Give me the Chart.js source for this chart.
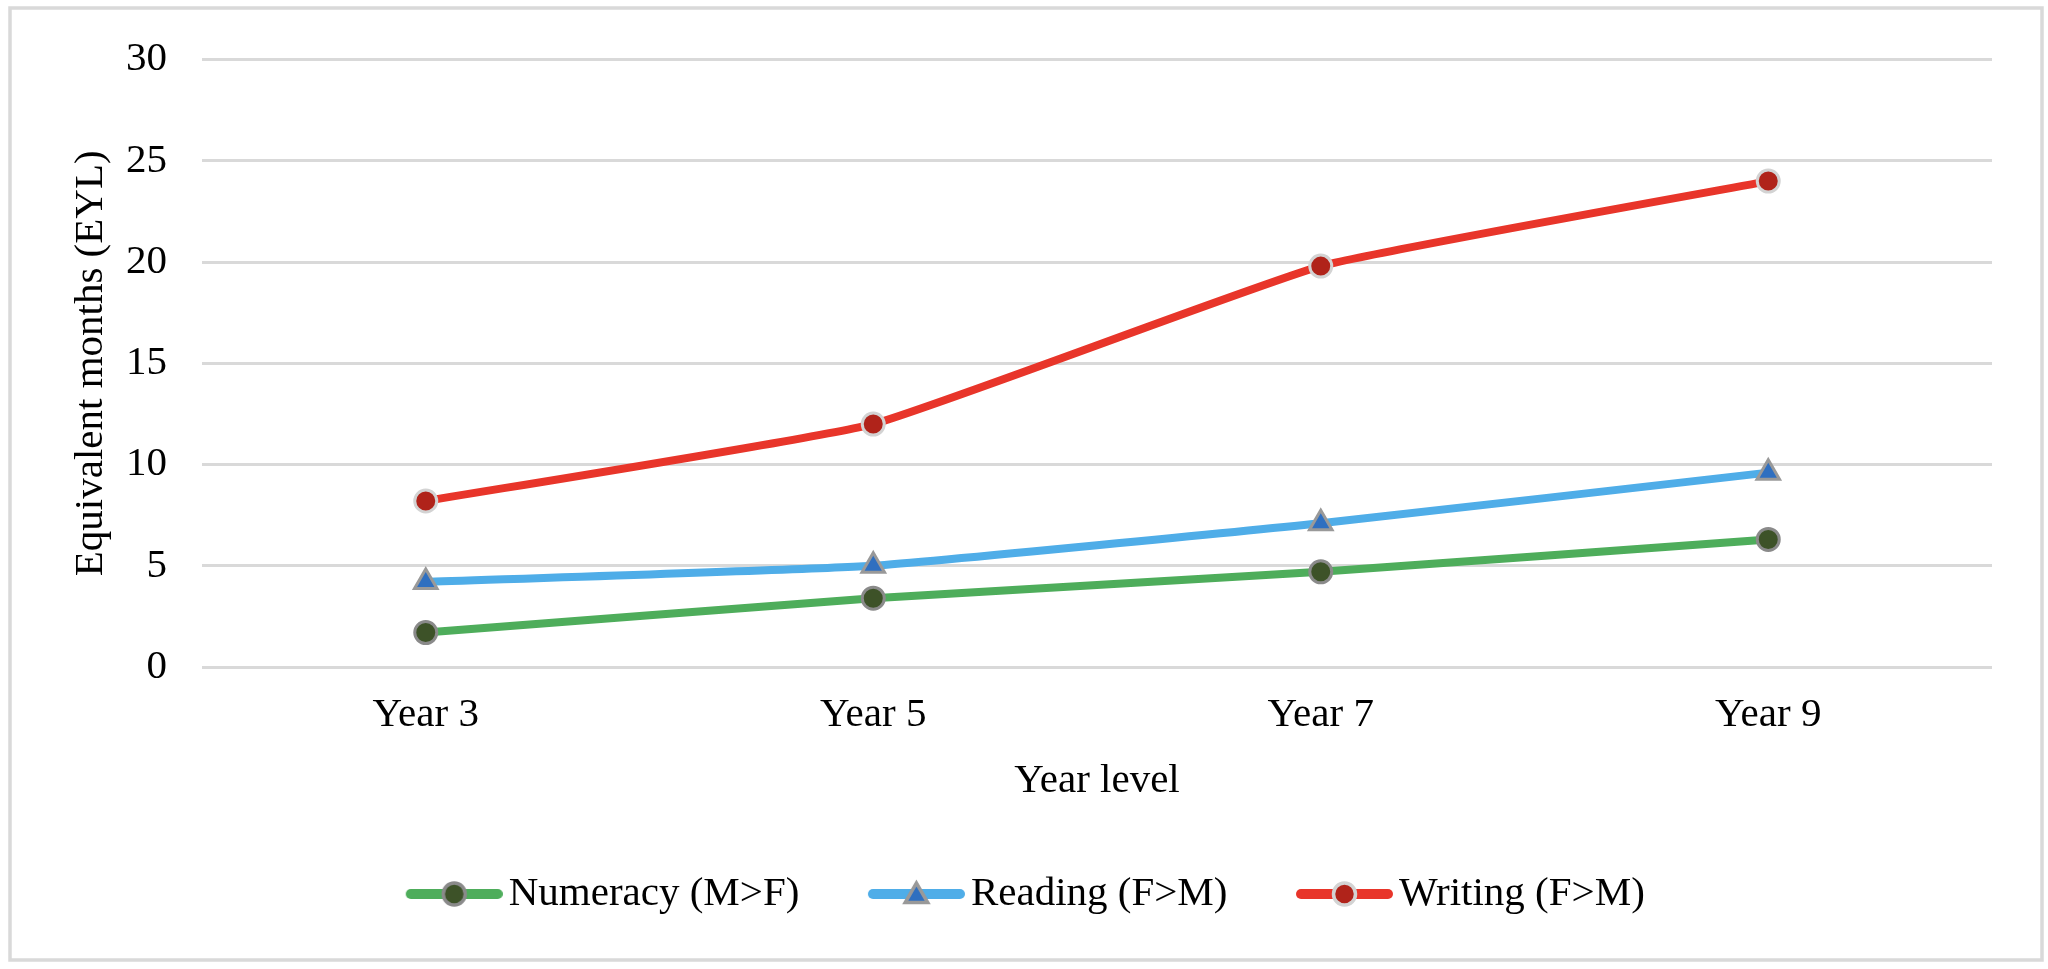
<!DOCTYPE html>
<html>
<head>
<meta charset="utf-8">
<title>Equivalent months by year level</title>
<script src="https://cdn.jsdelivr.net/npm/chart.js@4/dist/chart.umd.min.js"></script>
<style>
  html, body { margin: 0; padding: 0; background: #fff; }
  #wrap { position: relative; width: 2048px; height: 969px; }
</style>
</head>
<body>
<div id="wrap"><canvas id="eylChart"></canvas></div>
<script>
// ── Data ──
const YEAR_LABELS   = ['Year 3', 'Year 5', 'Year 7', 'Year 9'];
const NUMERACY_DATA = [1.7, 3.4, 4.7, 6.3];
const READING_DATA  = [4.2, 5.0, 7.1, 9.6];
const WRITING_DATA  = [8.2, 12.0, 19.8, 24.0];
const SERIES_NAMES  = ['Numeracy (M>F)', 'Reading (F>M)', 'Writing (F>M)'];
const Y_TICKS       = [0, 5, 10, 15, 20, 25, 30];

// ── Colour tokens ──
const C_GRID  = '#D9D9D9';
const C_TEXT  = '#000000';
const FONT    = "'Liberation Serif', 'Times New Roman', serif";
const F_SIZE  = 41;

const SERIES_STYLE = [
  { line: '#4EAD5B', fill: '#3D5228', border: '#8A8A8A', shape: 'circle',   r: 11 },
  { line: '#4FADE8', fill: '#2F6FC0', border: '#999999', shape: 'triangle', r: 13 },
  { line: '#E8352A', fill: '#B0231A', border: '#D3D3D3', shape: 'circle',   r: 11 },
];

// ── Legend swatch: short line with marker, drawn to an offscreen canvas ──
// transparent space on the left keeps the swatch close to its label
function legendSwatch(st) {
  const c = document.createElement('canvas');
  c.width = 150; c.height = 36;
  const g = c.getContext('2d');
  g.lineCap = 'round';
  g.lineWidth = 10;
  g.strokeStyle = st.line;
  g.beginPath();
  g.moveTo(58, 18);
  g.lineTo(145, 18);
  g.stroke();
  g.lineWidth = 3.5;
  g.fillStyle = st.fill;
  g.strokeStyle = st.border;
  const cy = st.shape === 'triangle' ? 20 : 18;
  Chart.helpers.drawPoint(g, { pointStyle: st.shape, radius: st.r, rotation: 0, borderWidth: 3.5 }, 101.5, cy);
  return c;
}
const SWATCHES = SERIES_STYLE.map(legendSwatch);

// ── Outer frame ──
const framePlugin = {
  id: 'frame',
  beforeDraw(chart) {
    const ctx = chart.ctx;
    ctx.save();
    ctx.strokeStyle = C_GRID;
    ctx.lineWidth = 3.5;
    ctx.strokeRect(10, 8, 2032, 952);
    ctx.restore();
  }
};

const SERIES_DATA = [NUMERACY_DATA, READING_DATA, WRITING_DATA];

new Chart(document.getElementById('eylChart'), {
  type: 'line',
  data: {
    labels: YEAR_LABELS,
    datasets: SERIES_DATA.map((d, i) => ({
      label: SERIES_NAMES[i],
      data: d,
      borderColor: SERIES_STYLE[i].line,
      backgroundColor: SERIES_STYLE[i].line,
      borderWidth: 8,
      tension: 0.12,
      fill: false,
      pointStyle: SERIES_STYLE[i].shape,
      pointRadius: SERIES_STYLE[i].r,
      pointBackgroundColor: SERIES_STYLE[i].fill,
      pointBorderColor: SERIES_STYLE[i].border,
      pointBorderWidth: 3,
    }))
  },
  options: {
    responsive: true,
    maintainAspectRatio: false,
    animation: false,
    layout: { padding: { top: 57, right: 56, bottom: 44.5, left: 20 } },
    plugins: {
      tooltip: { enabled: false },
      legend: {
        position: 'bottom',
        labels: {
          color: C_TEXT,
          font: { family: FONT, size: F_SIZE },
          usePointStyle: true,
          pointStyleWidth: 121,
          padding: 30,
          generateLabels(chart) {
            const items = Chart.defaults.plugins.legend.labels.generateLabels(chart);
            items.forEach((it, i) => { it.pointStyle = SWATCHES[i]; });
            return items;
          }
        }
      }
    },
    scales: {
      x: {
        offset: true,
        grid: { display: false, drawTicks: false },
        border: { display: false },
        ticks: { color: C_TEXT, font: { family: FONT, size: F_SIZE }, padding: 24, maxRotation: 0 },
        title: {
          display: true,
          text: 'Year level',
          color: C_TEXT,
          font: { family: FONT, size: F_SIZE },
          padding: { top: 0, bottom: 38 }
        },
        afterFit: s => { s.height = 176.5; }
      },
      y: {
        min: 0,
        max: 30,
        afterBuildTicks: s => { s.ticks = Y_TICKS.map(v => ({ value: v })); },
        grid: { color: C_GRID, lineWidth: 3, drawTicks: false },
        border: { display: false },
        ticks: { color: C_TEXT, font: { family: FONT, size: F_SIZE }, padding: 35 },
        title: {
          display: true,
          text: 'Equivalent months (EYL)',
          color: C_TEXT,
          font: { family: FONT, size: F_SIZE },
          padding: { top: 47, bottom: 0 }
        },
        afterFit: s => { s.width = 182; }
      }
    }
  },
  plugins: [framePlugin]
});
</script>
</body>
</html>
